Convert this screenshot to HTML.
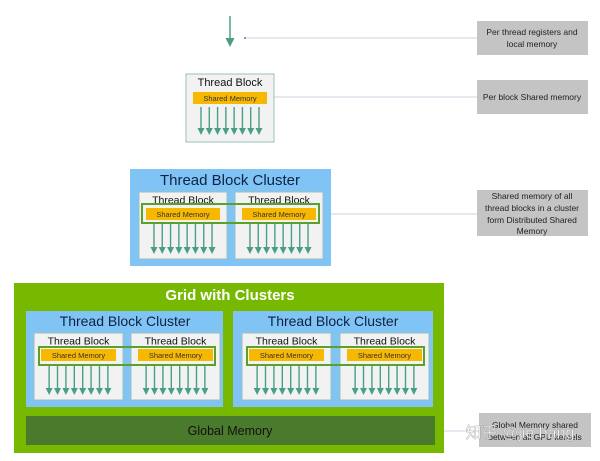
<!DOCTYPE html>
<html><head><meta charset="utf-8"><style>
body{margin:0;background:#fff;width:600px;height:461px;overflow:hidden}
svg{display:block}
text{font-family:"Liberation Sans","Noto Sans CJK SC",sans-serif}
</style></head><body>
<svg id="s" width="600" height="461" viewBox="0 0 600 461" xmlns="http://www.w3.org/2000/svg">
<g stroke="#c8d4e0" stroke-width="1">
<line x1="245" y1="38" x2="477" y2="38"/>
<line x1="270" y1="97" x2="477" y2="97"/>
<line x1="320" y1="214" x2="477" y2="214"/>
<line x1="436" y1="431" x2="479" y2="431"/>
</g>
<g fill="#5a7fa8"><circle cx="245" cy="38" r="1"/><circle cx="270" cy="97" r="1"/><circle cx="321" cy="214" r="1"/></g>
<g fill="#c4c4c4">
<rect x="477" y="21" width="111" height="34"/>
<rect x="477" y="80" width="111" height="34"/>
<rect x="477" y="190" width="111" height="46"/>
<rect x="479" y="413" width="112" height="34"/>
</g>
<g font-size="8.5" fill="#222" text-anchor="middle">
<text x="532" y="35">Per thread registers and</text>
<text x="532" y="47">local memory</text>
<text x="532" y="100">Per block Shared memory</text>
<text x="532" y="199">Shared memory of all</text>
<text x="532" y="211">thread blocks in a cluster</text>
<text x="532" y="223">form Distributed Shared</text>
<text x="532" y="234">Memory</text>
<text x="535" y="428">Global Memory shared</text>
<text x="535" y="440">between all GPU kernels</text>
</g>
<line x1="230" y1="16" x2="230" y2="40" stroke="#4a9e88" stroke-width="1.5"/>
<polygon points="225.5,38 234.5,38 230,47" fill="#4a9e88"/>
<rect x="186" y="74" width="88" height="68" fill="#f2f2f2" stroke="#9cc0b8" stroke-width="1"/>
<text x="230" y="86" font-size="11" text-anchor="middle" fill="#111">Thread Block</text>
<rect x="193" y="92" width="74" height="12" fill="#f6b800"/>
<text x="230" y="101" font-size="7.5" text-anchor="middle" fill="#333">Shared Memory</text>
<rect x="130" y="169" width="201" height="97" fill="#7fc4f4"/>
<text x="230" y="185" font-size="15" text-anchor="middle" fill="#0d2244">Thread Block Cluster</text>
<rect x="14" y="283" width="430" height="170" fill="#76b900"/>
<text x="230" y="300" font-size="15" font-weight="600" text-anchor="middle" fill="#fff">Grid with Clusters</text>
<rect x="26" y="311" width="197" height="96" fill="#7fc4f4"/>
<rect x="233" y="311" width="200" height="96" fill="#7fc4f4"/>
<text x="125" y="326" font-size="14" text-anchor="middle" fill="#0d2244">Thread Block Cluster</text>
<text x="333" y="326" font-size="14" text-anchor="middle" fill="#0d2244">Thread Block Cluster</text>
<rect x="26" y="416" width="409" height="29" fill="#4a7a2c"/>
<text x="230" y="435" font-size="12.5" text-anchor="middle" fill="#111">Global Memory</text>
<g id="dyn"></g>
<text x="520" y="438" font-size="16" fill="#fff" fill-opacity="0.85" text-anchor="middle" stroke="#888" stroke-width="0.3">知乎 @jie hang</text>
</svg>
<script>
var g=document.getElementById('dyn'),h='';
function arrows(x0,x1,y0,y1){var n=8,d=(x1-x0)/(n-1);for(var i=0;i<n;i++){var x=x0+i*d;
h+='<line x1="'+x+'" y1="'+y0+'" x2="'+x+'" y2="'+(y1-6)+'" stroke="#4a9e88" stroke-width="1.4"/>';
h+='<polygon points="'+(x-3.5)+','+(y1-7)+' '+(x+3.5)+','+(y1-7)+' '+x+','+y1+'" fill="#4a9e88"/>';}}
arrows(201,259,107,135);
function block(x,y,w,hh,fs,sy){
h+='<rect x="'+x+'" y="'+y+'" width="'+w+'" height="'+hh+'" fill="#f2f2f2" stroke="#9cc0b8"/>';
h+='<text x="'+(x+w/2)+'" y="'+(y+11.5)+'" font-size="'+fs+'" text-anchor="middle" fill="#111">Thread Block</text>';
h+='<rect x="'+(x+7)+'" y="'+sy+'" width="'+(w-14)+'" height="12" fill="#f6b800"/>';
h+='<text x="'+(x+w/2)+'" y="'+(sy+9)+'" font-size="7.5" text-anchor="middle" fill="#333">Shared Memory</text>';
arrows(x+w*0.17,x+w*0.83,sy+16,y+hh-5);}
block(139,192,88,67,10.5,208);block(235,192,88,67,10.5,208);
h+='<rect x="142" y="204" width="177" height="19" fill="none" stroke="#5aa02c" stroke-width="2"/>';
block(34,333,89,67,10.5,349);block(131,333,89,67,10.5,349);
block(242,333,89,67,10.5,349);block(340,333,89,67,10.5,349);
h+='<rect x="39" y="347" width="176" height="18" fill="none" stroke="#5aa02c" stroke-width="2"/>';
h+='<rect x="247" y="347" width="177" height="18" fill="none" stroke="#5aa02c" stroke-width="2"/>';
g.innerHTML=h;
</script>
</body></html>
